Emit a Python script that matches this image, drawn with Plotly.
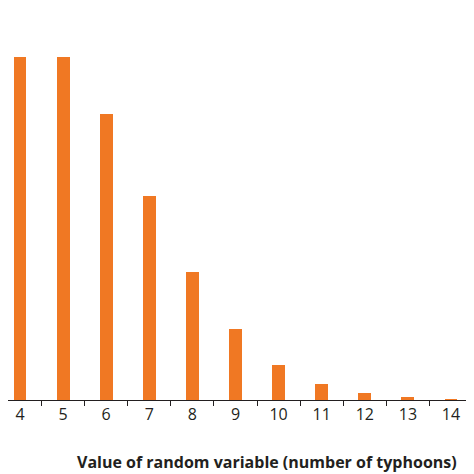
import plotly.graph_objects as go

categories = ["4", "5", "6", "7", "8", "9", "10", "11", "12", "13", "14"]
probabilities = [0.1755, 0.1755, 0.1462, 0.1044, 0.0653, 0.0363, 0.0181, 0.0082, 0.0034, 0.0013, 0.0005]
x_title = "Value of random variable (number of typhoons)"

fig = go.Figure()
fig.add_trace(go.Bar(
    x=categories,
    y=probabilities,
    width=0.3,
    marker=dict(color="#f07823", line=dict(width=0)),
    showlegend=False,
))

# page renders with ~8px offset, so the plot area is placed a bit up/left
fig.add_annotation(
    text="<b>" + x_title + "</b>",
    xref="paper", yref="paper",
    x=67 / 474, y=-62 / 392,
    xanchor="left", yanchor="middle",
    showarrow=False,
    font=dict(size=16, color="#231f20"),
)

fig.update_layout(
    width=474, height=474,
    margin=dict(l=0, r=0, t=0, b=82),
    plot_bgcolor="white",
    paper_bgcolor="white",
    font=dict(family="Open Sans", color="#231f20"),
    bargap=0,
)
fig.update_xaxes(
    type="category",
    range=[-0.278, 10.72],
    tickson="boundaries",
    ticks="outside",
    ticklen=5,
    tickcolor="#231f20",
    showline=True,
    linecolor="#231f20",
    linewidth=1,
    showgrid=False,
    tickfont=dict(size=16),
)
fig.update_yaxes(
    range=[0, 0.2006],
    visible=False,
    showgrid=False,
)

fig.write_html("out.html")
